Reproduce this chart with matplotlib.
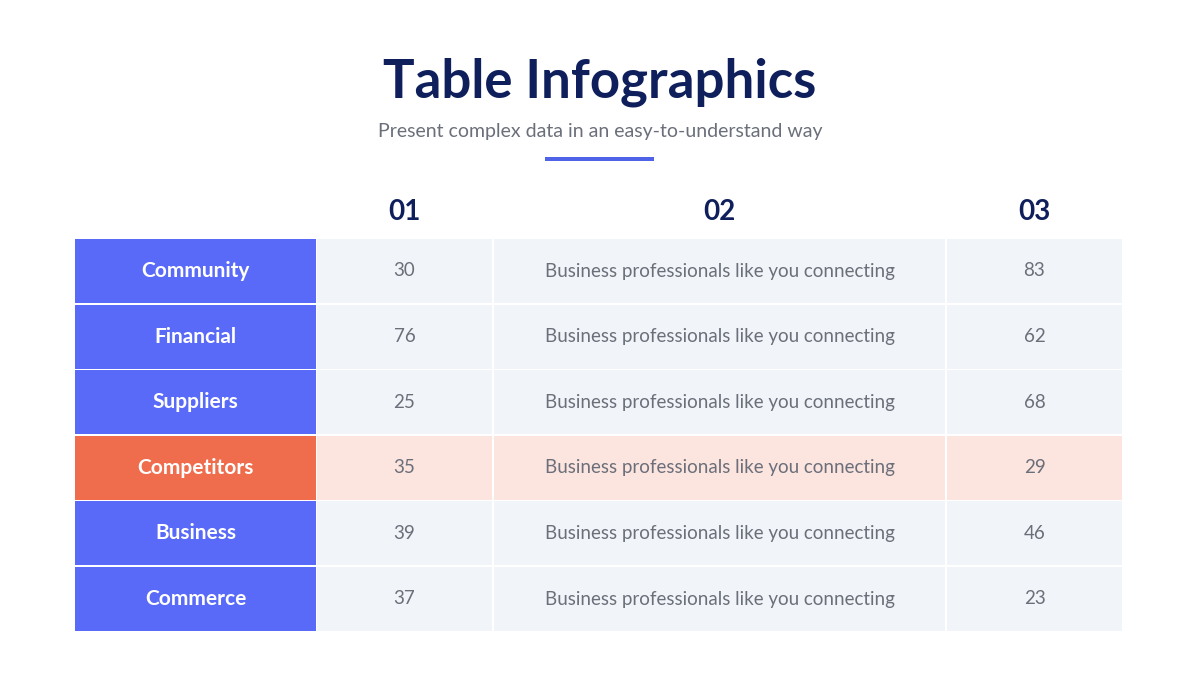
import matplotlib
matplotlib.use("Agg")
import matplotlib.pyplot as plt
from matplotlib.patches import Rectangle

categories = ["Community", "Financial", "Suppliers", "Competitors", "Business", "Commerce"]
col01 = [30, 76, 25, 35, 39, 37]
col02 = ["Business professionals like you connecting"] * 6
col03 = [83, 62, 68, 29, 46, 23]
headers = ["01", "02", "03"]
highlight = "Competitors"

fig = plt.figure(figsize=(12, 6.75), dpi=100)
ax = fig.add_axes([0, 0, 1, 1])
ax.set_xlim(0, 1200); ax.set_ylim(675, 0); ax.axis("off")

navy = "#0E1F5B"; blue = "#5A6AF8"; orange = "#EF6C4C"
light = "#F1F4F8"; pink = "#FCE4DF"; grey = "#6B6F7A"

ax.text(600, 82, "Table Infographics", ha="center", va="center", fontsize=38,
        fontweight="bold", color=navy, family="Lato")
ax.text(600, 131, "Present complex data in an easy-to-understand way", ha="center",
        va="center", fontsize=14, color=grey, family="Lato")
ax.add_patch(Rectangle((545, 157), 109, 4, color="#4F63E8", lw=0))

cols = [(75, 316), (317, 492), (494, 945), (947, 1122)]
top, rh, gap = 239, 64, 1.6
for j, h in enumerate(headers):
    x0, x1 = cols[j + 1]
    ax.text((x0 + x1) / 2, 212, h, ha="center", va="center", fontsize=20,
            fontweight="bold", color=navy, family="Lato")

for i, cat in enumerate(categories):
    y = top + i * (rh + gap)
    hl = cat == highlight
    ax.add_patch(Rectangle((cols[0][0], y), cols[0][1] - cols[0][0], rh,
                           color=orange if hl else blue, lw=0))
    ax.text((cols[0][0] + cols[0][1]) / 2, y + rh / 2, cat, ha="center", va="center",
            fontsize=15, fontweight="bold", color="white", family="Lato")
    vals = [col01[i], col02[i], col03[i]]
    for j, v in enumerate(vals):
        x0, x1 = cols[j + 1]
        ax.add_patch(Rectangle((x0, y), x1 - x0, rh, color=pink if hl else light, lw=0))
        ax.text((x0 + x1) / 2, y + rh / 2, str(v), ha="center", va="center",
                fontsize=13.5, color=grey, family="Lato")

fig.savefig("out.png", dpi=100, facecolor="white")
